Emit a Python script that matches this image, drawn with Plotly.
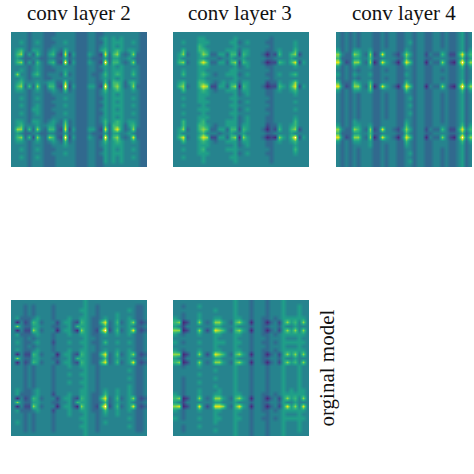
import plotly.graph_objects as go

# cell values, digit 0-9 on the colour scale, 34 x 34
LAYER_2 = [
    "4444 3444 3334 4444 3334 4334 4444 4444 33",
    "4444 3444 3344 4444 3334 4345 4545 4444 33",
    "4454 3454 3334 4544 3334 4335 4555 4454 33",
    "4444 3444 3344 4444 3334 4345 4545 4444 33",
    "4564 3554 3454 3644 3334 4356 4565 4554 33",
    "4673 5364 3563 2825 3335 4328 3674 3473 33",
    "4543 3443 3443 3534 3334 3335 3554 4543 33",
    "4673 5364 3563 2925 3335 4329 3664 3473 33",
    "4444 3454 3344 4444 3334 4345 4545 4444 33",
    "4454 3454 3334 4544 3334 4335 4555 4454 33",
    "4744 3564 3444 3634 3334 3346 4565 4464 33",
    "4454 3444 3344 4444 3334 4345 4545 4444 33",
    "4564 4454 4553 3734 3334 4336 3665 3564 33",
    "4673 6374 3663 2925 3335 5329 3675 3473 33",
    "4554 3454 3454 3634 3334 4346 4565 4454 33",
    "4444 3444 3344 4444 3334 4345 4545 4444 33",
    "4454 3454 3334 4544 3334 4335 4555 4454 33",
    "4444 3444 3344 4444 3334 4345 4545 4444 33",
    "4454 3454 3334 4544 3334 4335 4555 4454 33",
    "4444 3554 3344 4444 3334 4345 4545 4444 33",
    "4454 3454 3334 4544 3334 4335 4555 4454 33",
    "4444 3444 3344 4444 3334 4345 4545 4444 33",
    "4554 3554 3454 3634 3334 4346 4565 4554 33",
    "4564 4454 4553 3734 3334 4336 3665 3564 33",
    "4773 6374 3663 2825 3335 5328 3685 3473 33",
    "4543 3443 3443 3534 3334 3335 3554 4543 33",
    "4673 6274 3763 2925 3335 4329 3674 3483 33",
    "4554 3454 3454 3634 3334 4346 4565 4454 33",
    "4444 3444 3344 4544 3334 4345 4555 4444 33",
    "4454 3454 3334 4444 3334 4335 4545 4454 33",
    "4444 3444 3344 4544 3334 4345 4555 4444 33",
    "4454 3454 3334 4444 3334 4335 4545 4454 33",
    "4444 3444 3334 4444 3334 4335 4545 4444 33",
    "4444 3444 3334 4444 3334 4334 4444 4444 33",
]
LAYER_3 = [
    "4444 4444 4444 4444 4444 4444 4444 4444 44",
    "4444 4455 4444 4445 4444 4444 3444 4444 44",
    "4454 4455 5444 4455 3454 4443 3444 4454 44",
    "4444 4465 4444 4445 4444 4444 3444 4454 44",
    "4464 4466 5444 4555 3554 4443 3454 4464 44",
    "4573 4457 6335 5366 2654 4431 3264 4672 44",
    "4544 4455 4443 4454 4544 4443 3444 4544 44",
    "4673 4468 6335 5367 2654 4431 2265 4682 54",
    "4444 4455 5444 4445 3454 4443 3444 4454 44",
    "4454 4455 4444 4455 4444 4444 3444 4444 44",
    "4464 4456 5434 4555 3454 4443 3454 4564 44",
    "4444 4455 4444 4445 4444 4444 3444 4444 44",
    "4564 4466 5434 5455 3554 4442 3354 4574 44",
    "4673 4468 7225 5367 1654 4431 2265 4682 54",
    "4464 4456 5434 4555 3554 4443 3454 4564 44",
    "4444 4455 5444 4445 3454 4443 3444 4454 44",
    "4454 4455 4444 4455 4444 4444 3444 4444 44",
    "4444 4455 5444 4445 3454 4443 3444 4454 44",
    "4454 4445 4444 4455 4444 4444 3444 4444 44",
    "4444 4455 5444 4445 3454 4443 3444 4454 44",
    "4454 4445 4444 4455 4444 4444 3444 4444 44",
    "4444 4455 5444 4445 3454 4443 3444 4454 44",
    "4464 4456 4444 4555 3454 4443 3444 4464 44",
    "4464 4466 5434 4555 3554 4442 3354 4564 44",
    "4573 4467 6335 5366 2654 4431 3264 4672 44",
    "4544 4456 4443 4454 4544 4443 3444 4544 44",
    "4683 4468 7225 5367 1754 4431 2175 4692 54",
    "4464 4456 5434 4555 3554 4443 3454 4564 44",
    "4444 4455 5444 4445 3454 4443 3444 4454 44",
    "4454 4456 4444 4555 4444 4444 3444 4464 44",
    "4444 4455 5444 4445 3454 4443 3444 4454 44",
    "4454 4445 4444 4455 4444 4444 3444 4444 44",
    "4444 4445 4444 4445 4444 4444 3444 4444 44",
    "4444 4444 4444 4444 4444 4444 4444 4444 44",
]
LAYER_4 = [
    "4343 4344 4334 3443 3443 4433 4434 3345 34",
    "4343 4344 4334 3443 3443 4433 4434 3345 34",
    "4343 4344 4334 3443 3453 4433 4434 3345 34",
    "4343 4344 4334 3443 3443 4433 4434 3345 34",
    "5343 5544 5334 4443 3543 4433 4444 3345 35",
    "7433 7643 7238 4432 4753 4424 3364 2258 46",
    "6333 5544 6334 4443 3643 4433 4444 3346 35",
    "8423 7743 7138 5431 4863 4414 3374 2159 47",
    "5343 5444 5334 4443 3543 4433 4444 3346 35",
    "4343 4344 4334 3443 3443 4433 4434 3345 34",
    "5343 5444 5334 4443 3543 4433 4444 3345 34",
    "4343 4344 4334 3443 3443 4433 4434 3345 34",
    "6333 6544 6334 4443 3643 4433 4444 3346 35",
    "8423 7743 7138 5431 4863 4414 3374 2159 47",
    "5343 5544 6334 4443 3643 4433 4444 3346 35",
    "4343 4344 4334 3443 3443 4433 4434 3345 34",
    "4343 4344 4334 3443 3453 4433 4434 3345 34",
    "4343 4344 4334 3443 3443 4433 4434 3345 34",
    "4343 4344 4334 3443 3453 4433 4434 3345 34",
    "4343 4344 4334 3443 3443 4433 4434 3345 34",
    "4343 4344 4334 3443 3453 4433 4434 3345 34",
    "4343 4344 4334 3443 3443 4433 4434 3345 34",
    "4343 5444 4334 4443 3543 4433 4434 3345 34",
    "5343 5544 5334 4443 3643 4433 4444 3346 35",
    "7433 7643 7238 4432 4753 4424 3364 2258 46",
    "6333 5544 6334 4443 3643 4433 4444 3346 35",
    "8423 7743 7138 5431 4863 4414 3374 2159 47",
    "5343 5544 5334 4443 3643 4433 4444 3346 35",
    "4343 4444 5334 3443 3543 4433 4444 3345 34",
    "4343 4344 4334 3443 3443 4433 4434 3345 34",
    "4343 4344 4334 3443 3453 4433 4434 3345 34",
    "4343 4344 4334 3443 3443 4433 4434 3345 34",
    "4343 4344 4334 3443 3453 4433 4434 3345 34",
    "4343 4344 4334 3443 3443 4433 4434 3345 34",
]
ORIGINAL_CONV_1 = [
    "4444 4444 4444 4444 4454 4444 4444 4444 44",
    "4443 4344 4434 4444 4454 4344 4444 4443 34",
    "4443 4344 4434 4444 4554 4344 4444 4543 34",
    "4443 4344 4434 4444 4454 4344 4454 4443 34",
    "4533 3454 4434 4454 4554 3345 4454 4543 34",
    "4142 3653 4442 4553 2654 3368 3463 4573 23",
    "4743 3554 4433 4453 6554 3346 3454 4543 34",
    "4142 2753 4441 4553 1754 3269 2463 4583 23",
    "4533 3454 4434 4454 4554 3345 4454 4543 34",
    "4443 4344 4434 4444 4454 4344 4444 4443 34",
    "4543 3454 4424 4454 4554 3346 4454 4543 34",
    "4443 4344 4434 4444 4454 4344 4444 4443 34",
    "4543 3454 4434 4454 4554 4345 4454 4543 34",
    "4142 2653 4441 4553 2654 3368 3463 4573 23",
    "4743 3554 4433 4453 6554 3346 3454 4543 34",
    "4142 3653 4442 4553 2654 3368 3463 4583 23",
    "4443 4344 4434 4454 4554 4344 4444 4443 34",
    "4443 4344 4434 4444 4454 4344 4444 4543 34",
    "4443 4344 4434 4454 4554 4344 4444 4443 34",
    "4443 4344 4434 4444 4454 4344 4444 4543 34",
    "4443 4344 4434 4454 4554 4344 4444 4443 34",
    "4443 4344 4434 4444 4454 4344 4444 4543 34",
    "4543 3454 4434 4444 4554 4345 4454 4543 34",
    "4533 3454 4424 4454 4554 3346 4454 4543 34",
    "4142 3653 4442 4553 2654 3368 3463 4573 23",
    "4743 3554 4433 4453 6554 3346 3454 4543 34",
    "4142 2753 4441 4553 1754 3269 2463 4583 23",
    "4533 3454 4424 4454 4554 3346 4454 4543 34",
    "4443 4344 4434 4454 4454 4345 4454 4443 34",
    "4443 4344 4434 4444 4554 4344 4444 4543 34",
    "4543 4344 4434 4444 4454 4345 4444 4443 34",
    "4443 4344 4434 4444 4554 4344 4444 4543 34",
    "4443 4344 4434 4444 4454 4344 4444 4443 34",
    "4444 4444 4444 4444 4454 4444 4444 4444 44",
]
ORIGINAL_CONV_2 = [
    "4444 4444 4444 4445 4443 4443 4445 4444 44",
    "4434 4454 4444 4445 4443 4443 4445 4445 44",
    "4444 4444 4454 4445 4443 4443 4445 4445 44",
    "4434 4454 4444 4445 4443 4443 4445 4445 44",
    "5434 4454 4455 4445 5443 4433 4345 5555 54",
    "6712 4474 3477 5436 7541 4431 3425 7564 74",
    "5424 4444 4455 4445 4443 4433 4435 4454 44",
    "7712 4474 2487 6436 7541 4431 3425 7574 74",
    "5434 4454 4455 4445 5443 4433 4345 5555 54",
    "4444 4444 4454 4445 4443 4443 4445 4445 44",
    "5434 4454 4455 5445 5443 4433 4345 5555 54",
    "4444 4444 4454 4445 4443 4443 4445 4445 44",
    "5434 4454 4455 4445 5443 4433 4345 5555 54",
    "7712 4474 2487 6436 7541 4431 3425 7574 74",
    "5424 4444 4455 4445 4443 4433 4435 4454 44",
    "6712 4474 3477 5436 7541 4431 3425 7564 74",
    "4434 4454 4444 4445 4443 4443 4445 4445 44",
    "4444 4444 4454 4445 4443 4443 4445 4445 44",
    "4444 4454 4444 4445 4443 4443 4445 4445 44",
    "4434 4444 4454 4445 4443 4443 4445 4445 44",
    "4434 4454 4444 4445 4443 4443 4445 4445 44",
    "4434 4444 4454 4445 4443 4443 4445 4445 44",
    "4434 4454 4445 4445 4443 4443 4445 4545 54",
    "5434 4454 4455 4445 5443 4433 4345 5555 54",
    "6712 4474 3477 5436 7541 4431 3425 7564 74",
    "5424 4444 4455 4445 4443 4433 4435 4454 44",
    "7812 4484 2488 7436 8541 4431 3425 8574 84",
    "5434 4454 4455 4445 5443 4433 4345 5555 54",
    "4434 4444 4454 4445 4443 4443 4445 4445 44",
    "5434 4454 4455 4445 5443 4433 4345 5555 54",
    "4444 4444 4454 4445 4443 4443 4445 4445 44",
    "4434 4454 4444 4445 4443 4443 4445 4445 44",
    "4434 4444 4454 4445 4443 4443 4445 4445 44",
    "4444 4444 4444 4445 4443 4443 4445 4444 44",
]
TITLES = ["conv layer 2", "conv layer 3", "conv layer 4"]
SIDE_LABEL = "orginal model"

# viridis, with the peak cells washing out to near white as in the scan
COLORS = [
    [0.0, "#440154"],
    [0.11, "#482878"],
    [0.22, "#3e4989"],
    [0.33, "#31688e"],
    [0.44, "#26828e"],
    [0.55, "#1f9e89"],
    [0.66, "#35b779"],
    [0.78, "#90d743"],
    [0.89, "#e8e419"],
    [1.0, "#fffff0"],
]


def parse(rows):
    return [[int(c) for c in row if c != " "] for row in rows]


def px_x(left, right):
    return [left / 474, right / 474]


def px_y(top, bottom):
    return [1 - bottom / 474, 1 - top / 474]


panels = [
    (LAYER_2, 11, 147, 32, 167),
    (LAYER_3, 173, 309, 32, 167),
    (LAYER_4, 336, 472, 32, 167),
    (ORIGINAL_CONV_1, 11, 147, 300, 436),
    (ORIGINAL_CONV_2, 173, 309, 300, 436),
]

fig = go.Figure()
layout = {}
for i, (rows, left, right, top, bottom) in enumerate(panels, start=1):
    fig.add_trace(
        go.Heatmap(
            z=parse(rows),
            zmin=0,
            zmax=9,
            colorscale=COLORS,
            showscale=False,
            zsmooth="best",
            xaxis=f"x{i}",
            yaxis=f"y{i}",
        )
    )
    layout[f"xaxis{i}"] = dict(domain=px_x(left, right), visible=False)
    layout[f"yaxis{i}"] = dict(
        domain=px_y(top, bottom), visible=False, autorange="reversed"
    )

annotations = []
for title, center in zip(TITLES, [78.5, 240, 404]):
    annotations.append(
        dict(
            text=title,
            x=center / 474,
            y=1 - 13 / 474,
            xref="paper",
            yref="paper",
            xanchor="center",
            yanchor="middle",
            showarrow=False,
            font=dict(family="Liberation Serif", size=21, color="#111111"),
        )
    )
annotations.append(
    dict(
        text=SIDE_LABEL,
        x=326 / 474,
        y=1 - 368.5 / 474,
        xref="paper",
        yref="paper",
        xanchor="center",
        yanchor="middle",
        textangle=-90,
        showarrow=False,
        font=dict(family="Liberation Serif", size=21, color="#111111"),
    )
)

fig.update_layout(
    width=474,
    height=474,
    margin=dict(l=0, r=0, t=0, b=0),
    paper_bgcolor="white",
    plot_bgcolor="white",
    annotations=annotations,
    **layout,
)

# the page's default body margin would push the figure 8px off
fig.write_html(
    "out.html",
    config={"displayModeBar": False},
    post_script="document.body.style.margin = '0';",
)
